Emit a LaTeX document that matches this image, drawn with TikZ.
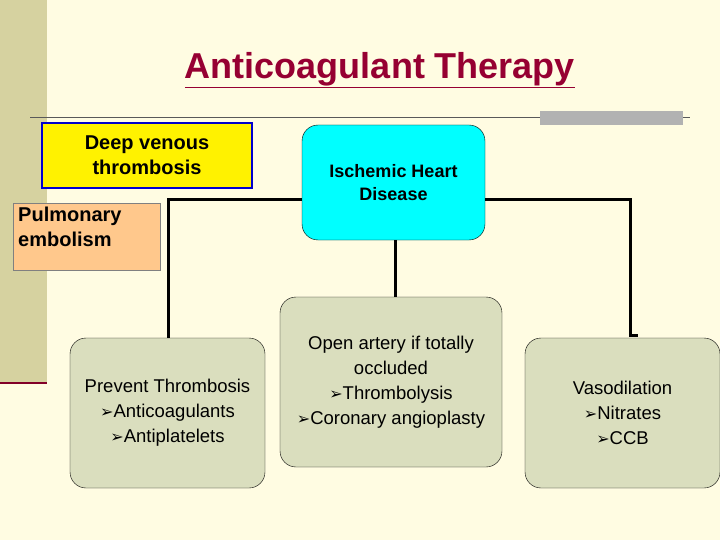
\documentclass[tikz,border=0pt]{standalone}
\usepackage{fontspec}
\setmainfont{Liberation Sans}
\newfontfamily\dv{DejaVu Sans}
\newcommand{\arr}{{\dv\fontsize{16}{18}\selectfont ➢}}
\begin{document}
\begin{tikzpicture}[x=1pt,y=-1pt,
  conn/.style={line width=3pt,black},
  green/.style={draw=black,rounded corners=16pt,fill={rgb,255:red,218;green,222;blue,190},align=center,font=\fontsize{18.5}{25}\selectfont},
  shadowtxt/.style={font=\bfseries\fontsize{20}{25}\selectfont}]
\definecolor{bg}{RGB}{255,252,226}
\definecolor{tan}{RGB}{214,210,160}
\definecolor{maroon}{RGB}{130,0,40}
\definecolor{ttl}{RGB}{150,0,50}
\definecolor{aqua}{RGB}{0,255,255}
\useasboundingbox (0,0) rectangle (720,540);
\fill[bg] (0,0) rectangle (720,540);
\fill[tan] (0,0) rectangle (47,383);
\draw[maroon,line width=2.5pt] (0,383) -- (47,383);
\draw[gray!70!black,line width=0.8pt] (30,117) -- (690,117);
\fill[gray!60] (540,111) rectangle (683,125);
\node[font=\bfseries\fontsize{36}{40}\selectfont,text=ttl] (title) at (380,70) {\underline{Anticoagulant Therapy}};
\node[draw=blue!80!black,line width=1.5pt,fill=yellow,minimum width=210pt,minimum height=65pt,align=center,shadowtxt] (dvt) at (147,155.5) {Deep venous\\thrombosis};
\node[draw=gray,fill={rgb,255:red,255;green,200;blue,140},minimum width=147pt,minimum height=67pt] (pe) at (86.5,236.5) {};
\node[shadowtxt,align=left,anchor=north west,inner sep=0pt] (pet) at (18,207) {Pulmonary\\embolism};
\node[draw=black,rounded corners=16pt,fill=aqua,minimum width=183pt,minimum height=115pt,align=center,font=\bfseries\fontsize{18}{23}\selectfont] (ihd) at (393.5,182.5) {Ischemic Heart\\ Disease};
\node[green,minimum width=222pt,minimum height=170pt] (mid) at (391,382) {Open artery if totally\\occluded\\\arr Thrombolysis\\\arr Coronary angioplasty};
\node[green,minimum width=195pt,minimum height=150pt] (left) at (167.5,413) {Prevent Thrombosis\\\arr Anticoagulants\\\arr Antiplatelets};
\node[green,minimum width=195pt,minimum height=150pt] (right) at (622.5,413) {Vasodilation\\\arr Nitrates\\\arr CCB};
\draw[conn] (ihd.west |- 0,200) -- (168,200) -- (left.north -| 168,0);
\draw[conn] (ihd.east |- 0,200) -- (630,200) -- (630,335) -- (638,335);
\draw[conn] (ihd.south -| 395,0) -- (mid.north -| 395,0);
\end{tikzpicture}
\end{document}
